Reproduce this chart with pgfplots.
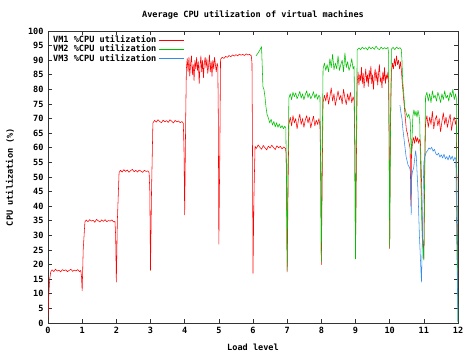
\documentclass[border=0pt]{standalone}
\usepackage{pgfplots}
\pgfplotsset{compat=1.18}
\usepackage{fontspec}
\setmainfont{DejaVu Sans Mono}
\definecolor{vmred}{RGB}{255,0,0}
\definecolor{vmgreen}{RGB}{0,192,0}
\definecolor{vmblue}{RGB}{51,140,235}
\newcommand{\gfont}{\bfseries\fontsize{8.6}{10}\selectfont}
\begin{document}
\begin{tikzpicture}
\path[use as bounding box] (0,0) rectangle (474bp,355bp);
\begin{axis}[
  at={(48bp,32bp)}, anchor=south west,
  scale only axis, width=410bp, height=292bp,
  xmin=0, xmax=12, ymin=0, ymax=100,
  xtick={0,1,...,12}, ytick={0,5,...,100},
  tick pos=both, tick align=inside, major tick length=4bp,
  axis line style={line width=0.6bp, black!80},
  tick style={line width=0.6bp, black!80},
  /pgf/number format/assume math mode=true,
  ticklabel style={font=\gfont},
  xticklabel style={yshift=-1bp},
  yticklabel style={xshift=-1bp},
  title={Average CPU utilization of virtual machines},
  title style={font=\gfont, at={(0.5,1)}, anchor=base, yshift=8bp},
  xlabel={Load level},
  xlabel style={font=\gfont, at={(0.5,0)}, anchor=base, yshift=-27bp},
  ylabel={CPU utilization (\%)},
  ylabel style={font=\gfont, at={(axis description cs:-0.0927,0.5)}, anchor=center},
  legend plot pos=right,
  legend cell align=left,
  legend style={at={(0,1)}, anchor=north west, draw=none, fill=none,
    font=\gfont, row sep=-3.2bp, xshift=0bp, yshift=-0.5bp},
  legend image code/.code={\draw[#1] (0bp,0bp) -- (25bp,0bp);},
  every axis plot/.append style={line width=0.55bp, line join=round},
]
\addplot[vmred] coordinates {
(0,2) (0.02,9) (0.05,15) (0.08,17.5) (0.12,18.2) (0.17,17.6) (0.22,18.4) (0.27,17.8) (0.32,18.1) (0.37,17.5) (0.42,18.3) (0.47,17.9) (0.52,18.2) (0.57,17.6) (0.62,18.0) (0.67,18.4) (0.72,17.7) (0.77,18.1) (0.82,17.8) (0.87,18.3) (0.92,17.6) (0.96,18.0) (0.98,16) (1.0,11)
(1.03,25) (1.08,34.6) (1.12,35.3) (1.17,34.7) (1.22,35.4) (1.27,34.9) (1.32,35.2) (1.37,34.5) (1.42,35.5) (1.47,35.0) (1.52,34.6) (1.57,35.3) (1.62,34.8) (1.67,35.4) (1.72,34.7) (1.77,35.1) (1.82,34.9) (1.87,35.3) (1.92,34.6) (1.96,34.8) (1.98,30) (2.0,14)
(2.03,35) (2.08,51.5) (2.12,52.3) (2.17,51.7) (2.22,52.5) (2.27,51.9) (2.32,52.4) (2.37,51.6) (2.42,52.2) (2.47,52.6) (2.52,51.8) (2.57,52.3) (2.62,51.7) (2.67,52.4) (2.72,52.0) (2.77,51.6) (2.82,52.3) (2.87,51.9) (2.92,52.1) (2.96,51.5) (2.98,45) (3.0,18)
(3.03,45) (3.07,68.5) (3.12,69.4) (3.17,68.8) (3.22,69.6) (3.27,69.0) (3.32,68.6) (3.37,69.5) (3.42,68.9) (3.47,69.3) (3.52,68.7) (3.57,69.6) (3.62,69.1) (3.67,68.5) (3.72,69.4) (3.77,68.9) (3.82,69.2) (3.87,68.6) (3.92,69.0) (3.96,68.4) (3.98,60) (4.0,37)
(4.03,70) (4.05,87) (4.075,90.5) (4.1,86) (4.125,91) (4.15,84.5) (4.175,89) (4.2,91.5) (4.225,85) (4.25,88.5) (4.275,83) (4.3,90) (4.325,87) (4.35,91) (4.375,86.5) (4.4,89.5) (4.425,82) (4.45,88) (4.475,91.5) (4.5,86) (4.525,90) (4.55,84) (4.575,89) (4.6,91) (4.625,87.5) (4.65,90.5) (4.675,85.5) (4.7,88) (4.725,91.8) (4.75,86) (4.775,89.5) (4.8,84.5) (4.825,90) (4.85,87) (4.875,91) (4.9,88.5) (4.925,86) (4.95,89) (4.97,88) (4.985,70) (5.0,27)
(5.03,60) (5.05,90.3) (5.1,91) (5.15,90.6) (5.2,91.3) (5.25,91.0) (5.3,91.6) (5.35,91.2) (5.4,91.8) (5.45,91.4) (5.5,91.9) (5.55,91.5) (5.6,92.1) (5.65,91.7) (5.7,92.0) (5.75,91.6) (5.8,92.2) (5.85,91.8) (5.9,92.0) (5.95,91.5) (5.97,89) (5.985,60) (6.0,17)
(6.03,45) (6.06,60.5) (6.1,59.8) (6.15,61) (6.2,60.2) (6.25,59.5) (6.3,60.8) (6.35,60.0) (6.4,59.3) (6.45,60.6) (6.5,59.9) (6.55,60.9) (6.6,60.1) (6.65,59.4) (6.7,60.7) (6.75,60.0) (6.8,60.5) (6.85,59.6) (6.9,60.3) (6.95,59.8) (6.97,58) (6.985,45) (7.0,17.5)
(7.03,50) (7.05,68) (7.09,70.5) (7.13,67.5) (7.17,71) (7.21,68.5) (7.25,70) (7.29,66.5) (7.33,69.5) (7.37,71.5) (7.41,68) (7.45,70) (7.49,67) (7.53,69.5) (7.57,71) (7.61,68.5) (7.65,70.5) (7.69,66.8) (7.73,69) (7.77,70.8) (7.81,67.5) (7.85,69.5) (7.89,68) (7.93,70) (7.96,67.5) (7.98,55) (8.0,20)
(8.03,55) (8.05,75.5) (8.09,78) (8.13,76) (8.17,79) (8.21,75) (8.25,77.5) (8.29,80.5) (8.33,76) (8.37,78.5) (8.41,74.5) (8.45,77) (8.49,79.5) (8.53,76.5) (8.57,78) (8.61,75) (8.65,80) (8.69,77) (8.73,74.8) (8.77,78.5) (8.81,76) (8.85,79) (8.89,75.5) (8.93,77.5) (8.96,76) (8.98,60) (9.0,22)
(9.03,60) (9.05,82) (9.075,86) (9.1,81.5) (9.125,85) (9.15,83) (9.175,87.5) (9.2,82) (9.225,85.5) (9.25,80.5) (9.275,84) (9.3,87) (9.325,82.5) (9.35,85) (9.375,81) (9.4,86.5) (9.425,83.5) (9.45,88) (9.475,82) (9.5,85) (9.525,80) (9.55,84.5) (9.575,87) (9.6,83) (9.625,86) (9.65,81.5) (9.675,85.5) (9.7,88.5) (9.725,82.5) (9.75,84) (9.775,80.5) (9.8,86) (9.825,83) (9.85,87.5) (9.875,82) (9.9,85) (9.925,83.5) (9.95,86) (9.97,82) (9.985,60) (10.0,25.5)
(10.02,65) (10.05,86) (10.08,89) (10.11,87) (10.14,90.5) (10.17,88) (10.2,91.5) (10.23,88.5) (10.26,90) (10.29,87) (10.32,89.5) (10.35,85.5) (10.37,82) (10.4,78) (10.43,74) (10.46,70) (10.49,66) (10.52,65) (10.55,62.5) (10.58,61) (10.6,59.5) (10.62,40) (10.64,58) (10.67,62) (10.7,63.5) (10.73,61.5) (10.76,64) (10.79,62) (10.82,63.5) (10.85,61.5) (10.88,63) (10.9,62) (10.93,50) (10.96,30) (11.0,22)
(11.03,55) (11.05,68.5) (11.09,71) (11.13,67) (11.17,70.5) (11.21,68) (11.25,72.5) (11.29,66.5) (11.33,69.5) (11.37,71) (11.41,67.5) (11.45,70) (11.49,65.5) (11.53,69) (11.57,72) (11.61,68) (11.65,70.5) (11.69,67) (11.73,69.5) (11.77,71.5) (11.81,66) (11.85,69) (11.89,70.5) (11.93,68) (11.95,69.5) (11.97,40) (12.0,15)
};
\addlegendentry{VM1 \%CPU utilization}
\addplot[vmgreen] coordinates {
(6.09,91.5) (6.15,92.5) (6.2,93.5) (6.25,94.6) (6.27,88) (6.29,81) (6.32,80) (6.35,77.5) (6.38,74) (6.41,71.5) (6.45,70.2) (6.49,68.5) (6.53,69.8) (6.57,67.8) (6.61,69) (6.65,67.2) (6.69,68.6) (6.73,67) (6.77,68.2) (6.81,66.8) (6.85,67.6) (6.89,66.5) (6.93,67.4) (6.96,66.8) (6.98,50) (7.0,18)
(7.02,50) (7.05,77) (7.09,78.5) (7.13,76.5) (7.17,79) (7.21,77.5) (7.25,78.8) (7.29,76.8) (7.33,78) (7.37,79.3) (7.41,77) (7.45,78.5) (7.49,76.5) (7.53,78.2) (7.57,79.5) (7.61,77.2) (7.65,78.6) (7.69,76.8) (7.73,77.8) (7.77,79.2) (7.81,77) (7.85,78.5) (7.89,76.6) (7.93,78) (7.96,77.5) (7.98,55) (8.0,21)
(8.02,55) (8.05,87) (8.09,89) (8.13,86.5) (8.17,88.5) (8.21,86) (8.25,90.5) (8.29,87.5) (8.33,92) (8.37,86.8) (8.41,89) (8.45,87) (8.49,91.5) (8.53,86.5) (8.57,88.5) (8.61,90) (8.65,86) (8.69,92.5) (8.73,87.5) (8.77,89.5) (8.81,86.5) (8.85,88) (8.89,90.5) (8.93,87) (8.96,88) (8.98,60) (9.0,22)
(9.02,60) (9.05,93.5) (9.1,94.2) (9.15,93.6) (9.2,94.5) (9.25,93.8) (9.3,94.3) (9.35,93.5) (9.4,94.6) (9.45,93.9) (9.5,94.4) (9.55,93.7) (9.6,94.8) (9.65,94.0) (9.7,93.6) (9.75,94.5) (9.8,93.8) (9.85,94.3) (9.9,93.9) (9.95,94.4) (9.97,92) (9.985,60) (10.0,26)
(10.02,60) (10.05,93.8) (10.1,94.4) (10.15,93.6) (10.2,94.5) (10.25,93.9) (10.3,94.3) (10.34,93.7) (10.36,90) (10.38,83) (10.41,79) (10.44,74) (10.48,72) (10.52,70.5) (10.56,71.5) (10.6,69.5) (10.62,62) (10.64,58) (10.66,65) (10.68,71) (10.71,73) (10.74,71) (10.77,72.5) (10.8,70.5) (10.83,72.8) (10.86,71) (10.88,69) (10.91,50) (10.95,30) (11.0,21.5)
(11.03,60) (11.05,77.5) (11.09,79) (11.13,76) (11.17,78.5) (11.21,75.5) (11.25,79.5) (11.29,77) (11.33,78) (11.37,76) (11.41,79) (11.45,77.5) (11.49,75.5) (11.53,78.5) (11.57,76.5) (11.61,79.5) (11.65,77) (11.69,78) (11.73,76) (11.77,79) (11.81,77.5) (11.85,80) (11.89,76.5) (11.93,78.5) (11.95,77) (11.97,40) (12.0,0.5)
};
\addlegendentry{VM2 \%CPU utilization}
\addplot[vmblue] coordinates {
(10.3,74.6) (10.33,72) (10.36,70) (10.39,66) (10.42,63) (10.45,60) (10.48,57) (10.51,55.5) (10.54,54) (10.57,53.5) (10.6,52.5) (10.62,50) (10.63,37) (10.645,50) (10.67,52) (10.7,53) (10.73,56) (10.76,59) (10.78,57) (10.8,52) (10.83,45) (10.87,30) (10.93,14) (10.96,30) (10.98,45) (11.0,55) (11.03,57) (11.07,58.5) (11.11,59) (11.15,60) (11.19,59.5) (11.23,60.2) (11.27,58.8) (11.31,59.5) (11.35,58) (11.39,57.5) (11.43,58.2) (11.47,56.8) (11.51,57.6) (11.55,56.5) (11.59,57.8) (11.63,56.2) (11.67,57) (11.71,55.8) (11.75,57.4) (11.79,56) (11.83,57.2) (11.87,55.5) (11.91,56.8) (11.94,56) (11.96,30) (12.0,0.5)
};
\addlegendentry{VM3 \%CPU utilization}
\end{axis}
\end{tikzpicture}
\end{document}
